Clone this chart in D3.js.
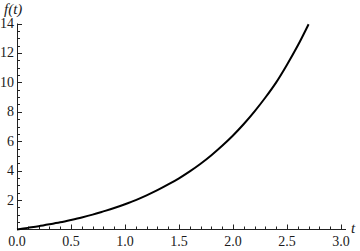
<!DOCTYPE html>
<html>
<head>
<meta charset="utf-8">
<script src="https://cdn.jsdelivr.net/npm/d3@7"></script>
<style>
  body { margin: 0; background: #fff; }
  svg text { font-family: "Liberation Serif", "Times New Roman", serif; fill: #1a1a1a; }
</style>
</head>
<body>
<div id="chart"></div>
<script>
// values
const tValues = [0, 0.1, 0.2, 0.3, 0.4, 0.5, 0.6, 0.7, 0.8, 0.9, 1.0, 1.1, 1.2, 1.3,
    1.4, 1.5, 1.6, 1.7, 1.8, 1.9, 2.0, 2.1, 2.2, 2.3, 2.4, 2.5, 2.6, 2.7];
const fValues = [0, 0.11, 0.22, 0.35, 0.49, 0.65, 0.82, 1.01, 1.23, 1.46, 1.72, 2.0, 2.32, 2.67,
    3.06, 3.48, 3.95, 4.47, 5.05, 5.69, 6.39, 7.17, 8.03, 8.97, 10.0, 11.2, 12.5, 13.95];
const xTicks = [0, 0.5, 1.0, 1.5, 2.0, 2.5, 3.0];
const yTicks = [2, 4, 6, 8, 10, 12, 14];

const wSvg = 360;
const hSvg = 251;

const svg = d3.select('#chart')
    .append('svg')
    .attr('width', wSvg)
    .attr('height', hSvg);

const x = d3.scaleLinear().domain([0, 3]).range([17, 341]);
const y = d3.scaleLinear().domain([0, 14]).range([229.5, 23.5]);

const axisColor = '#222';

// x axis
const xAxis = svg.append('g');
xAxis.append('line')
    .attr('x1', x(0)).attr('x2', 346)
    .attr('y1', y(0)).attr('y2', y(0))
    .attr('stroke', axisColor);

const xMinor = d3.range(0, 31).map(i => i / 10);
xAxis.selectAll('.xtick')
    .data(xMinor)
    .enter()
    .append('line')
    .attr('x1', d => Math.round(x(d)) + 0.5)
    .attr('x2', d => Math.round(x(d)) + 0.5)
    .attr('y1', y(0))
    .attr('y2', (d, i) => i % 5 === 0 ? y(0) - 5 : y(0) - 3)
    .attr('stroke', axisColor);

xAxis.selectAll('.xlabel')
    .data(xTicks)
    .enter()
    .append('text')
    .attr('x', d => x(d))
    .attr('y', 246)
    .attr('text-anchor', 'middle')
    .attr('font-size', 14)
    .text(d => d.toFixed(1));

svg.append('text')
    .attr('x', 351)
    .attr('y', 233)
    .attr('font-size', 15)
    .attr('font-style', 'italic')
    .text('t');

// y axis
const yAxis = svg.append('g');
yAxis.append('line')
    .attr('x1', x(0) + 0.5).attr('x2', x(0) + 0.5)
    .attr('y1', y(0)).attr('y2', y(14))
    .attr('stroke', axisColor);

const yMinor = d3.range(1, 29).map(i => i / 2);
yAxis.selectAll('.ytick')
    .data(yMinor)
    .enter()
    .append('line')
    .attr('x1', x(0))
    .attr('x2', (d, i) => (i % 4 === 3) ? x(0) + 5 : x(0) + 3)
    .attr('y1', d => Math.round(y(d)) + 0.5)
    .attr('y2', d => Math.round(y(d)) + 0.5)
    .attr('stroke', axisColor);

yAxis.selectAll('.ylabel')
    .data(yTicks)
    .enter()
    .append('text')
    .attr('x', 14)
    .attr('y', d => y(d) + 4.5)
    .attr('text-anchor', 'end')
    .attr('font-size', 14)
    .text(d => d);

svg.append('text')
    .attr('x', 4)
    .attr('y', 14)
    .attr('font-size', 15)
    .attr('font-style', 'italic')
    .text('f(t)');

// curve
const line = d3.line()
    .x((d, i) => x(tValues[i]))
    .y(d => y(d))
    .curve(d3.curveCatmullRom);

svg.append('path')
    .datum(fValues)
    .attr('d', line)
    .attr('fill', 'none')
    .attr('stroke', '#000')
    .attr('stroke-width', 2);
</script>
</body>
</html>
